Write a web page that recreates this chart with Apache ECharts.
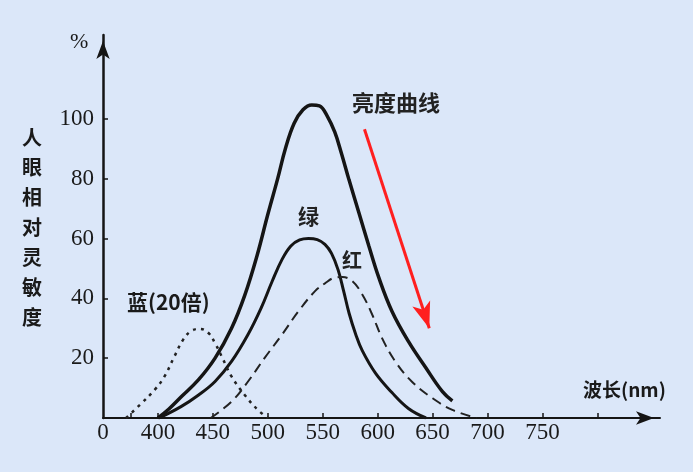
<!DOCTYPE html>
<html>
<head>
<meta charset="utf-8">
<script src="https://cdn.jsdelivr.net/npm/echarts@6/dist/echarts.min.js"></script>
<style>
html,body{margin:0;padding:0;background:#dbe7f9;}
#c{width:693px;height:472px;}
</style>
</head>
<body>
<div id="c"></div>
<script>
// x tick labels (wavelength nm); 350 is displayed as "0" (broken axis)
const xLabelValues = [350, 400, 450, 500, 550, 600, 650, 700, 750];
const xTickValues = [375, 400, 450, 500, 550, 600, 650, 700, 750, 800];
const yLabelValues = [20, 40, 60, 80, 100];

// 亮度曲线 (luminance)
const luminance = [
  [400, 0], [410, 3], [421, 7], [437, 12.8], [452, 20], [467, 30], [479, 41],
  [490, 54], [500, 68], [509, 80], [516, 90], [524, 98.5], [532, 103], [540, 104.6],
  [547, 104.3], [554, 101], [561, 95.5], [567, 88.5], [574, 79.5], [583, 68.5],
  [592, 57.5], [601, 47], [613, 35.7], [628, 25.6], [644, 16.7], [659, 8.8], [668, 5.7]
];
// 绿 (green)
const green = [
  [401, 0], [421, 3.8], [437, 7.7], [452, 12.2], [467, 18.9], [482, 27.9],
  [494, 36.8], [504, 45.7], [513, 53], [521, 57.5], [529, 59.5], [537, 60],
  [545, 59.6], [552, 58], [558, 55], [564, 49.5], [569, 42.5], [574, 35],
  [580, 28], [586, 22.5], [598, 15], [613, 8.5], [628, 3.2], [644, 0]
];
// 红 (red)
const red = [
  [448, 0], [467, 5.5], [482, 12.2], [497, 20], [513, 27.9], [528, 35.7],
  [543, 42.4], [552, 45], [561, 46.9], [568, 47.1], [577, 45.7], [586, 41.3],
  [595, 34.6], [604, 26.7], [616, 18.9], [631, 12.2], [650, 6.6], [668, 2.7],
  [690, 0]
];
// 蓝 (blue, ×20)
const blue = [
  [371, 0], [385, 4.9], [397, 9.4], [406, 13.9], [415, 20.6], [423, 26.2],
  [430, 29], [438, 29.8], [446, 28.4], [452, 25], [458, 20.6], [467, 13.9],
  [479, 7.7], [491, 2.7], [500, 0]
];
// red annotation arrow (data coordinates)
const arrowFrom = [588, 96.5];
const arrowTo = [647, 30];

const ink = '#151515';
const serif = '"Liberation Serif", "DejaVu Serif", serif';
const cjk = '"Noto Sans CJK SC", sans-serif';

const chart = echarts.init(document.getElementById('c'), null, {renderer: 'canvas'});
const lineCommon = {type: 'line', smooth: 0.4, symbol: 'none'};
chart.setOption({
  backgroundColor: '#dbe7f9',
  animation: false,
  grid: {left: 103, right: 33, top: 35, bottom: 54, containLabel: false},
  xAxis: {
    type: 'value', min: 350, max: 857, interval: 50,
    axisLine: {show: true, symbol: ['none', 'arrow'], symbolSize: [10, 18], symbolOffset: [0, -6],
      lineStyle: {color: ink, width: 2}},
    axisTick: {show: true, inside: true, length: 5, customValues: xTickValues, lineStyle: {color: ink, width: 1.5}},
    axisLabel: {customValues: xLabelValues, margin: 3, color: '#1a1a1a', fontFamily: serif, fontSize: 23,
      formatter: v => (v === 350 ? '0' : String(v))},
    splitLine: {show: false}
  },
  yAxis: {
    type: 'value', min: 0, max: 128, interval: 20,
    axisLine: {show: true, symbol: ['none', 'arrow'], symbolSize: [10, 18], symbolOffset: [0, -6],
      lineStyle: {color: ink, width: 2.5}},
    axisTick: {show: true, inside: true, length: 5, customValues: yLabelValues, lineStyle: {color: ink, width: 1.5}},
    axisLabel: {customValues: yLabelValues, margin: 9, color: '#1a1a1a', fontFamily: serif, fontSize: 23},
    splitLine: {show: false}
  },
  series: [
    Object.assign({}, lineCommon, {name: '亮度曲线', data: luminance,
      lineStyle: {color: ink, width: 3.5},
      markLine: {silent: true, symbol: ['none', 'arrow'], symbolSize: [14, 26],
        label: {show: false},
        lineStyle: {color: '#ff1f1f', width: 3, type: 'solid'},
        data: [[{coord: arrowFrom}, {coord: arrowTo}]]}}),
    Object.assign({}, lineCommon, {name: '绿', data: green,
      lineStyle: {color: ink, width: 3}}),
    Object.assign({}, lineCommon, {name: '红', data: red,
      lineStyle: {color: '#222', width: 2, type: [10, 6]}}),
    Object.assign({}, lineCommon, {name: '蓝', data: blue,
      lineStyle: {color: '#222', width: 2.5, type: [3, 5]}})
  ],
  graphic: [
    {type: 'text', left: 70, top: 31, style: {text: '%', font: '22px ' + serif, fill: '#1a1a1a'}},
    {type: 'text', left: 22, top: 122, style: {text: '人\n眼\n相\n对\n灵\n敏\n度', font: 'bold 20px ' + cjk,
      lineHeight: 30, fill: '#1a1a1a'}},
    {type: 'text', left: 352, top: 92, style: {text: '亮度曲线', font: 'bold 22px ' + cjk, fill: '#222'}},
    {type: 'text', left: 298, top: 206, style: {text: '绿', font: 'bold 21px ' + cjk, fill: '#222'}},
    {type: 'text', left: 342, top: 250, style: {text: '红', font: 'bold 20px ' + cjk, fill: '#222'}},
    {type: 'text', left: 127, top: 292, style: {text: '蓝(20倍)', font: 'bold 21px ' + cjk, fill: '#1a1a1a'}},
    {type: 'text', left: 583, top: 380, style: {text: '波长(nm)', font: 'bold 19px ' + cjk, fill: '#1a1a1a'}}
  ]
});
</script>
</body>
</html>
